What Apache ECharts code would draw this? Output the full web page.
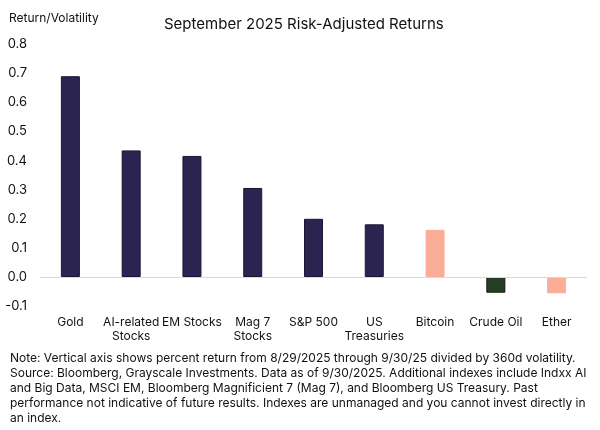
<!DOCTYPE html>
<html>
<head>
<meta charset="utf-8">
<script src="https://cdn.jsdelivr.net/npm/echarts@6/dist/echarts.min.js"></script>
<style>
html,body{margin:0;padding:0;background:#fff;}
#c{width:600px;height:430px;}
</style>
</head>
<body>
<div id="c"></div>
<script>
const categories = ["Gold", "AI-related\nStocks", "EM Stocks", "Mag 7\nStocks", "S&P 500", "US\nTreasuries", "Bitcoin", "Crude Oil", "Ether"];
const values = [0.69, 0.435, 0.416, 0.306, 0.20, 0.181, 0.162, -0.054, -0.056];
const yTicks = [-0.1, 0.0, 0.1, 0.2, 0.3, 0.4, 0.5, 0.6, 0.7, 0.8];
const noteLines = [
  "Note: Vertical axis shows percent return from 8/29/2025 through 9/30/25 divided by 360d volatility.",
  "Source: Bloomberg, Grayscale Investments. Data as of 9/30/2025. Additional indexes include Indxx AI",
  "and Big Data, MSCI EM, Bloomberg Magnificient 7 (Mag 7), and Bloomberg US Treasury. Past",
  "performance not indicative of future results. Indexes are unmanaged and you cannot invest directly in",
  "an index."
];

const fillColors = ["#2b2350","#2b2350","#2b2350","#2b2350","#2b2350","#2b2350","#fbae97","#253d25","#fbae97"];
const borderColors = ["#1c1636","#1c1636","#1c1636","#1c1636","#1c1636","#1c1636","#fbae97","#111811","#fbae97"];

const barItems = values.map((v, i) => ({
  value: v,
  itemStyle: { color: fillColors[i], borderColor: borderColors[i], borderWidth: 1 }
}));

const FONT = "Inter, 'Noto Sans', sans-serif";
const chart = echarts.init(document.getElementById('c'));
chart.setOption({
  animation: false,
  textStyle: { fontFamily: FONT },
  title: {
    text: "September 2025 Risk-Adjusted Returns",
    left: 159, top: 12,
    textStyle: { fontSize: 15, fontWeight: 'normal', color: '#111', fontFamily: FONT }
  },
  grid: { left: 40, right: 13, top: 44.2, bottom: 430 - 306.1 },
  xAxis: {
    type: 'category',
    data: categories,
    position: 'bottom',
    axisLine: { show: false },
    axisTick: { show: false },
    axisLabel: {
      interval: 0, color: '#111', fontSize: 12, lineHeight: 14,
      verticalAlign: 'top', margin: 9, fontFamily: FONT
    }
  },
  yAxis: {
    type: 'value',
    min: yTicks[0], max: yTicks[yTicks.length - 1], interval: 0.1,
    splitLine: { show: false },
    axisLine: { show: false },
    axisTick: { show: false },
    axisLabel: {
      color: '#111', fontSize: 13, margin: 13, fontFamily: FONT,
      formatter: v => v.toFixed(1)
    }
  },
  series: [{
    type: 'bar',
    data: barItems,
    barWidth: 19,
    markLine: {
      silent: true, symbol: 'none', label: { show: false },
      lineStyle: { color: '#d9d9d9', type: 'solid', width: 1 },
      data: [{ yAxis: 0 }]
    }
  }],
  graphic: [
    { type: 'text', left: 9, top: 12, style: { text: "Return/Volatility", fontSize: 12, fill: '#111', fontFamily: FONT } },
    { type: 'text', left: 10, top: 351, style: { text: noteLines.join("\n"), fontSize: 12, lineHeight: 15, fill: '#111', fontFamily: FONT } }
  ]
});
</script>
</body>
</html>
